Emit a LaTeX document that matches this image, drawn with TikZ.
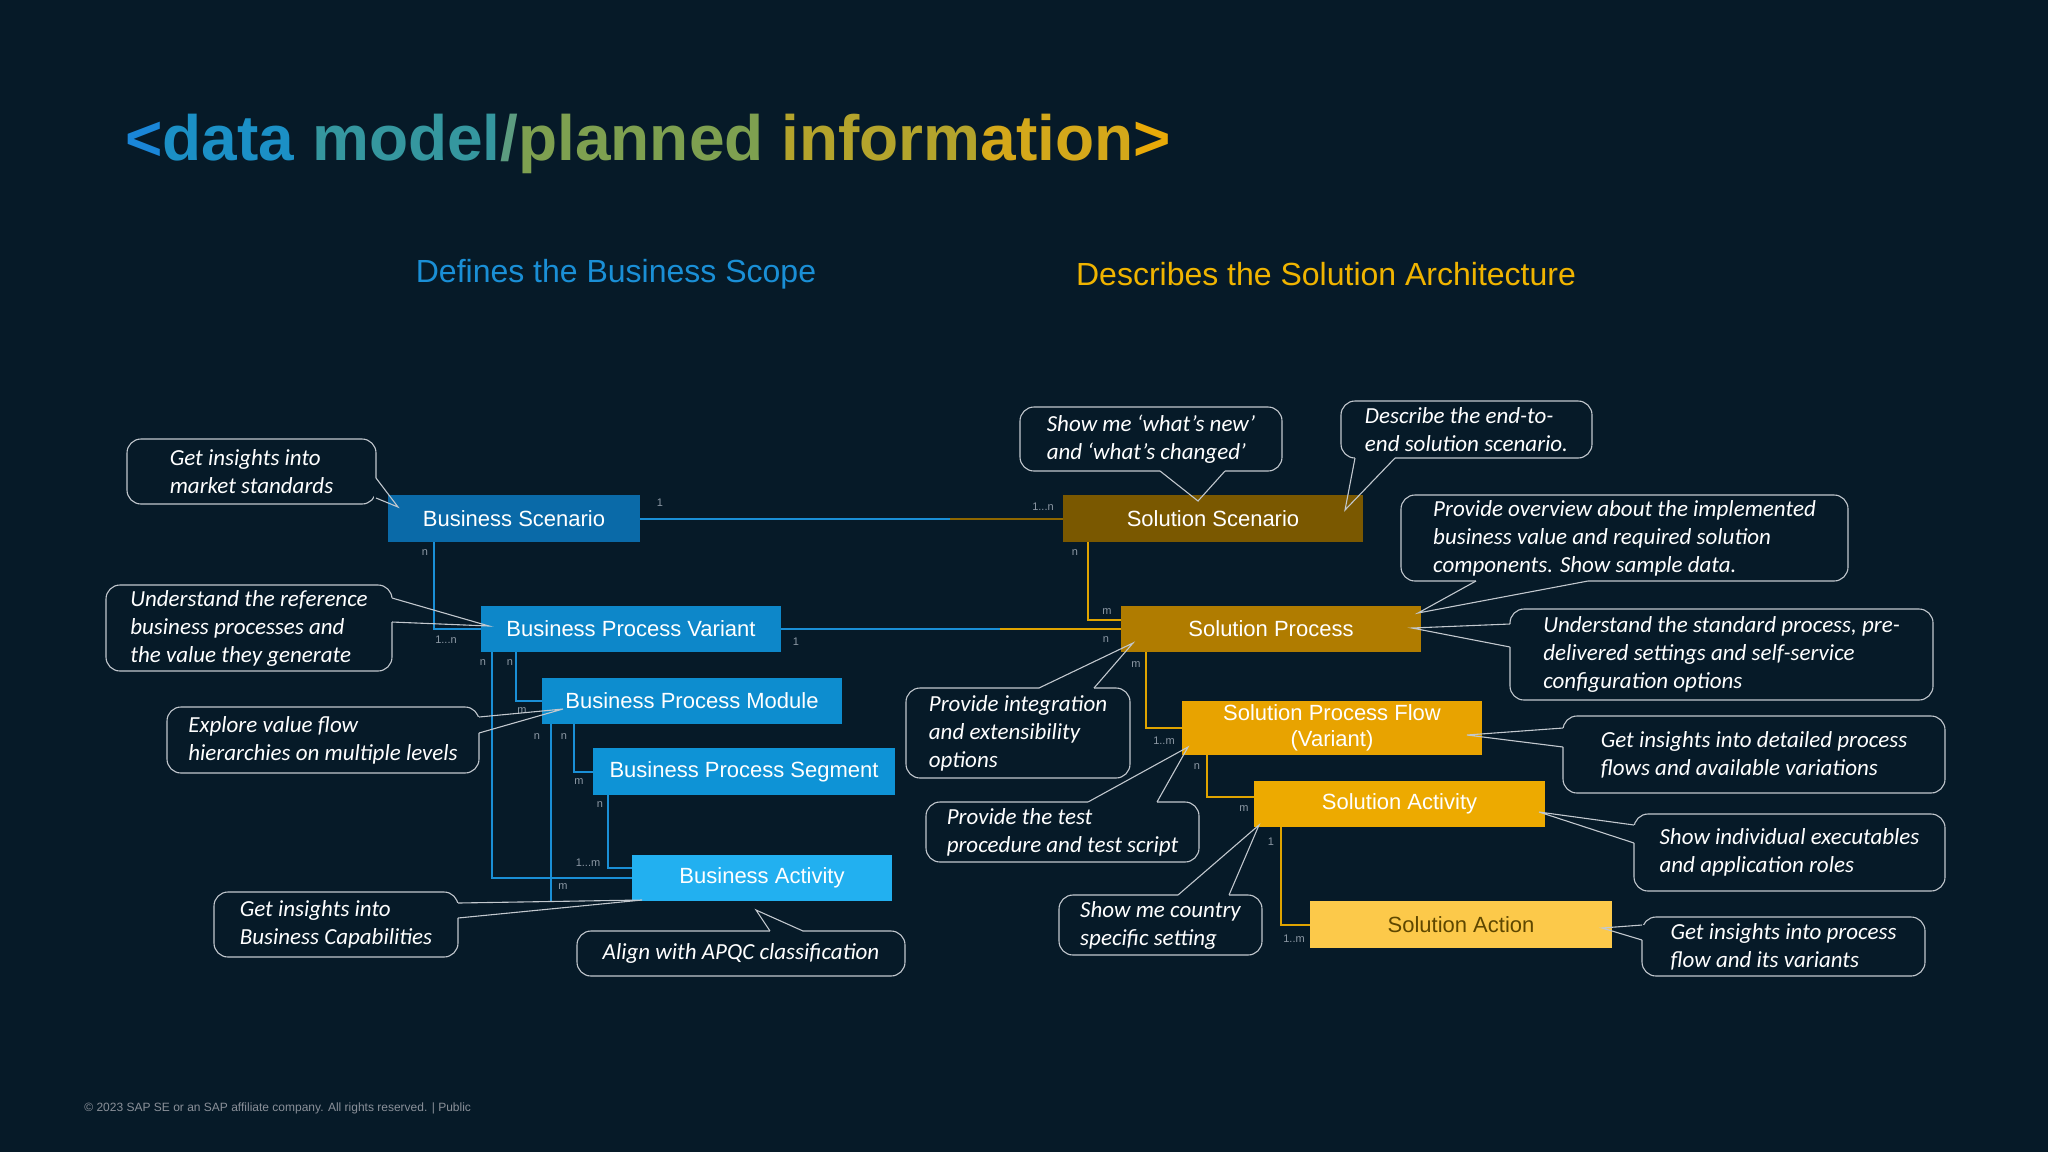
\documentclass[tikz,border=0pt]{standalone}
\usepackage{fontspec}
\setmainfont{Liberation Sans}
\newfontfamily\calfont{Carlito}
\usetikzlibrary{calc}
\definecolor{bg}{HTML}{061A28}
\definecolor{cb}{HTML}{C2C8CE}
\definecolor{lb}{HTML}{1A8FD6}
\definecolor{lg}{HTML}{E0A400}
\definecolor{lab}{HTML}{8C98A4}
\definecolor{cbs}{HTML}{0A6AA8}
\definecolor{cbpv}{HTML}{0D87C9}
\definecolor{cbpm}{HTML}{0D8DCF}
\definecolor{cbps}{HTML}{0E93D6}
\definecolor{cba}{HTML}{22B0F0}
\definecolor{css}{HTML}{7A5800}
\definecolor{csp}{HTML}{B07C00}
\definecolor{cspf}{HTML}{E8A300}
\definecolor{csa}{HTML}{EDAA00}
\definecolor{csac}{HTML}{FCC94A}
\definecolor{tac}{HTML}{5E4700}
\definecolor{tft}{HTML}{8A9099}
\definecolor{h2c}{HTML}{F0B400}
\tikzset{
 box/.style={inner sep=0pt,text=white,font=\fontsize{11}{12.5}\selectfont,align=center},
 co/.style={draw=cb,line width=0.55pt,rounded corners=7pt,text=white,font=\calfont\itshape\fontsize{11.5}{14}\selectfont,align=left,inner xsep=0pt,inner ysep=0pt},
 bgl/.style={draw=bg,line width=1.6pt},
 cl/.style={draw=cb,line width=0.55pt},
 lbl/.style={text=lab,font=\fontsize{5.5}{6}\selectfont,inner sep=0pt},
 bl/.style={draw=lb,line width=1pt},
 gl/.style={draw=lg,line width=1pt}
}
\newcommand\bx[7]{\node[box,fill=#6,minimum width=#4pt,minimum height=#5pt] (#1) at (#2,#3) {#7};}
\newcommand\callbox[6]{\node[co,minimum width=#4pt,minimum height=#5pt] (#1) at (#2,#3) {#6};}
\newcommand\ptr[3]{\draw[bgl] #1 -- #2; \draw[cl] #1 -- #3 -- #2;}
\begin{document}
\begin{tikzpicture}[x=0.5pt,y=-0.5pt]
\fill[bg] (0,0) rectangle (2048,1152);
\useasboundingbox (0,0) rectangle (2048,1152);
% title
\node[anchor=base west,inner sep=0pt,font=\bfseries\fontsize{32}{36}\selectfont] (title) at (125,160) {\textcolor[HTML]{1A86D8}{<}\textcolor[HTML]{1B90C6}{data} \textcolor[HTML]{35979F}{model}\textcolor[HTML]{5C9C80}{/}\textcolor[HTML]{7EA050}{planned} \textcolor[HTML]{B4A42C}{inform}\textcolor[HTML]{D4A81A}{ation}\textcolor[HTML]{E8AA08}{>}};
\node[text=lb,font=\fontsize{16}{18}\selectfont] (h1) at (616,274) {Defines the Business Scope};
\node[text=h2c,font=\fontsize{16}{18}\selectfont] (h2) at (1326,274) {Describes the Solution Architecture};
% boxes
\bx{bs}{514}{518.5}{126}{23.5}{cbs}{Business Scenario}
\bx{bpv}{631}{629}{150}{23}{cbpv}{Business Process Variant}
\bx{bpm}{692}{701}{150}{23}{cbpm}{Business Process Module}
\bx{bps}{744}{771.5}{151}{23.5}{cbps}{Business Process Segment}
\bx{ba}{762}{878}{130}{23}{cba}{Business Activity}
\bx{ss}{1213}{518.5}{150}{23.5}{css}{Solution Scenario}
\bx{sp}{1271}{629}{150}{23}{csp}{Solution Process}
\node[box,fill=cspf,minimum width=150pt,minimum height=27pt,font=\fontsize{11}{13}\selectfont] (spf) at (1332,728) {Solution Process Flow\\(Variant)};
\bx{sa}{1399.5}{804}{145.5}{23}{csa}{Solution Activity}
\node[box,fill=csac,minimum width=151pt,minimum height=23.5pt,text=tac] (sac) at (1461,924.5) {Solution Action};
% horizontal links
\coordinate (m1) at (950,518.5);
\coordinate (m2) at (1000,629);
\draw[bl] (bs.east) -- (m1);
\draw[draw=css!80!lg,line width=1pt] (m1) -- (ss.west);
\draw[bl] (bpv.east) -- (m2);
\draw[gl] (m2) -- (sp.west);
% business connectors
\draw[bl] ($(bs.south west)+(46,0)$) |- (bpv.west);
\draw[bl] ($(bpv.south west)+(35,0)$) |- (bpm.west);
\draw[bl] ($(bpv.south west)+(11,0)$) |- (ba.west);
\draw[bl] ($(bpm.south west)+(9,0)$) -- ($(bpm.south west)+(9,177)$);
\draw[bl] ($(bpm.south west)+(32,0)$) |- (bps.west);
\draw[bl] ($(bps.south west)+(15,0)$) |- ($(ba.west)+(0,-10)$);
% solution connectors
\draw[gl] ($(ss.south west)+(25,0)$) |- ($(sp.west)+(0,-9)$);
\draw[gl] ($(sp.south west)+(25,0)$) |- (spf.west);
\draw[gl] ($(spf.south west)+(25,0)$) |- ($(sa.west)+(0,-7)$);
\draw[gl] ($(sa.south west)+(27,0)$) |- (sac.west);
% labels
\node[lbl] at (660,503) {1};
\node[lbl] at (425,553) {n};
\node[lbl] at (446,640) {1...n};
\node[lbl] at (483,663) {n};
\node[lbl] at (510,663) {n};
\node[lbl] at (796,642) {1};
\node[lbl] at (522,711) {m};
\node[lbl] at (537,737) {n};
\node[lbl] at (564,737) {n};
\node[lbl] at (579,782) {m};
\node[lbl] at (600,805) {n};
\node[lbl] at (588,863) {1...m};
\node[lbl] at (563,887) {m};
\node[lbl] at (1043,507) {1...n};
\node[lbl] at (1075,553) {n};
\node[lbl] at (1107,612) {m};
\node[lbl] at (1106,640) {n};
\node[lbl] at (1136,665) {m};
\node[lbl] at (1164,741) {1..m};
\node[lbl] at (1197,767) {n};
\node[lbl] at (1244,809) {m};
\node[lbl] at (1271,842) {1};
\node[lbl] at (1294,939) {1..m};
% callouts
\callbox{c1}{251.5}{471.5}{124.5}{32.5}{Get insights into\\market standards}
\ptr{(376,478)}{(376,498)}{(398,507)}
\callbox{c2}{249}{628}{143}{43}{Understand the reference\\business processes and\\the value they generate}
\ptr{(392,598)}{(392,622)}{(489,626)}
\callbox{c3}{323}{740}{156}{33}{Explore value flow\\hierarchies on multiple levels}
\ptr{(479,717)}{(479,733)}{(563,709)}
\callbox{c4}{336}{924.5}{122}{32.5}{Get insights into\\Business Capabilities}
\ptr{(458,903)}{(458,918)}{(642,900)}
\callbox{c5}{741}{953.5}{164}{22.5}{Align with APQC classification}
\ptr{(770,931)}{(803,931)}{(756,910)}
\callbox{c6}{1151}{439}{131}{32}{Show me ‘what’s new’\\and ‘what’s changed’}
\ptr{(1160,471)}{(1225,471)}{(1198,501)}
\callbox{c7}{1466.5}{429.5}{125.5}{28.5}{Describe the end-to-\\end solution scenario.}
\ptr{(1355,458)}{(1395,458)}{(1345,510)}
\callbox{c8}{1624.5}{538}{223.5}{43}{Provide overview about the implemented\\business value and required solution\\components. Show sample data.}
\ptr{(1476,581)}{(1588,581)}{(1418,613)}
\callbox{c9}{1721.5}{654.5}{211.5}{45.5}{Understand the standard process, pre-\\delivered settings and self-service\\configuration options}
\ptr{(1510,624)}{(1510,647)}{(1412,628)}
\callbox{c10}{1018}{733}{112}{45}{Provide integration\\and extensibility\\options}
\ptr{(1039,688)}{(1094,688)}{(1133,643)}
\callbox{c11}{1062.5}{832}{136.5}{30}{Provide the test\\procedure and test script}
\ptr{(1088,802)}{(1157,802)}{(1188,747)}
\callbox{c12}{1160.5}{925}{101.5}{30}{Show me country\\specific setting}
\ptr{(1178,895)}{(1229,895)}{(1259,825)}
\callbox{c13}{1754}{754.5}{191}{38.5}{Get insights into detailed process\\flows and available variations}
\ptr{(1563,728)}{(1563,747)}{(1467,735)}
\callbox{c14}{1789.5}{852.5}{155.5}{38.5}{Show individual executables\\and application roles}
\ptr{(1634,825)}{(1634,843)}{(1539,812)}
\callbox{c15}{1783.5}{946.5}{141.5}{29.5}{Get insights into process\\flow and its variants}
\ptr{(1642,925)}{(1642,940)}{(1602,928)}
% footer
\node[anchor=west,text=tft,font=\fontsize{6}{7}\selectfont,inner sep=0pt] (ft) at (84,1108) {© 2023 SAP SE or an SAP affiliate company. All rights reserved. | Public};
\end{tikzpicture}
\end{document}
